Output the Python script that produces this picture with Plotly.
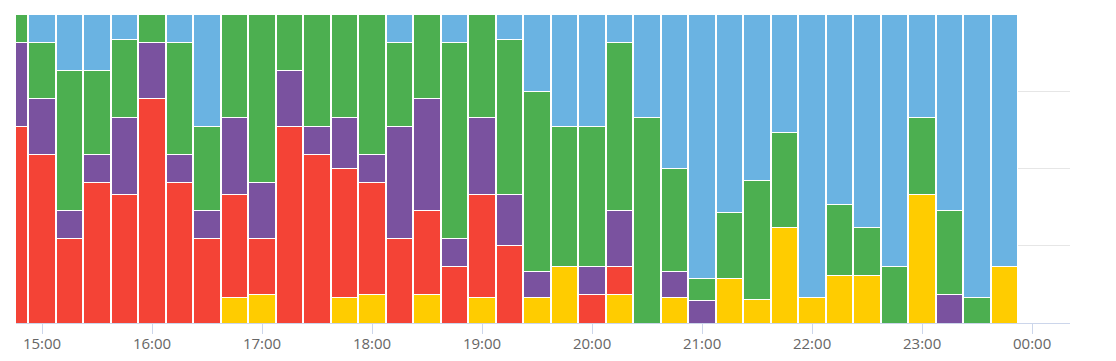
import plotly.graph_objects as go
import pandas as pd

times = pd.date_range("2024-01-01 14:45", "2024-01-01 23:45", freq="15min")

# counts per 15-minute bucket (stacked bottom -> top)
yellow = [0,0,0,0,0,0,0,0,1,1,0,0,1,1,0,1,0,1,0,1,2,0,1,0,1,0,2,1,4,1,2,2,0,5,0,0,2]
red    = [7,6,3,5,5,8,5,3,4,2,7,6,5,4,3,3,2,4,3,0,0,1,1,0,0,0,0,0,0,0,0,0,0,0,0,0,0]
purple = [3,2,1,1,3,2,1,1,3,2,2,1,2,1,4,4,1,3,2,1,0,1,2,0,1,1,0,0,0,0,0,0,0,0,1,0,0]
green  = [1,2,5,3,3,1,4,3,4,6,2,4,4,5,3,3,7,4,6,7,5,5,6,8,4,1,3,5,4,0,3,2,2,3,3,1,0]
blue   = [0,1,2,2,1,0,1,4,0,0,0,0,0,0,1,0,1,0,1,3,4,4,1,4,6,12,9,7,5,11,8,9,9,4,7,11,9]

series = [
    ("Yellow", yellow, "#FFCC00"),
    ("Red", red, "#F44336"),
    ("Purple", purple, "#7A529F"),
    ("Green", green, "#4CAF50"),
    ("Blue", blue, "#6AB3E2"),
]

fig = go.Figure()
for name, vals, col in series:
    fig.add_trace(go.Bar(
        x=times, y=vals, name=name,
        marker=dict(color=col, line=dict(color="#ffffff", width=1)),
    ))

tickvals = pd.date_range("2024-01-01 15:00", "2024-01-02 00:00", freq="1h")

fig.update_layout(
    barmode="stack",
    barnorm="percent",
    bargap=0.04,
    width=1108, height=353,
    margin=dict(l=8, r=46, t=6, b=38),
    paper_bgcolor="white", plot_bgcolor="white",
    showlegend=False,
    font=dict(family="Open Sans, sans-serif", size=15, color="#666666"),
    xaxis=dict(
        type="date",
        range=["2024-01-01 14:45:48", "2024-01-02 00:20:40"],
        tickvals=tickvals, tickformat="%H:%M",
        ticks="outside", ticklen=10, tickcolor="#ccd6eb", tickwidth=1,
        ticklabelstandoff=-3,
        showline=True, linecolor="#ccd6eb", linewidth=1,
        showgrid=False, zeroline=False,
        tickfont=dict(size=15, color="#666666"),
    ),
    yaxis=dict(
        range=[0, 100],
        tickvals=[0, 25, 50, 75, 100],
        showticklabels=False,
        showgrid=True, gridcolor="#e6e6e6", gridwidth=1,
        zeroline=False, showline=False,
    ),
)

fig.write_html("out.html")
